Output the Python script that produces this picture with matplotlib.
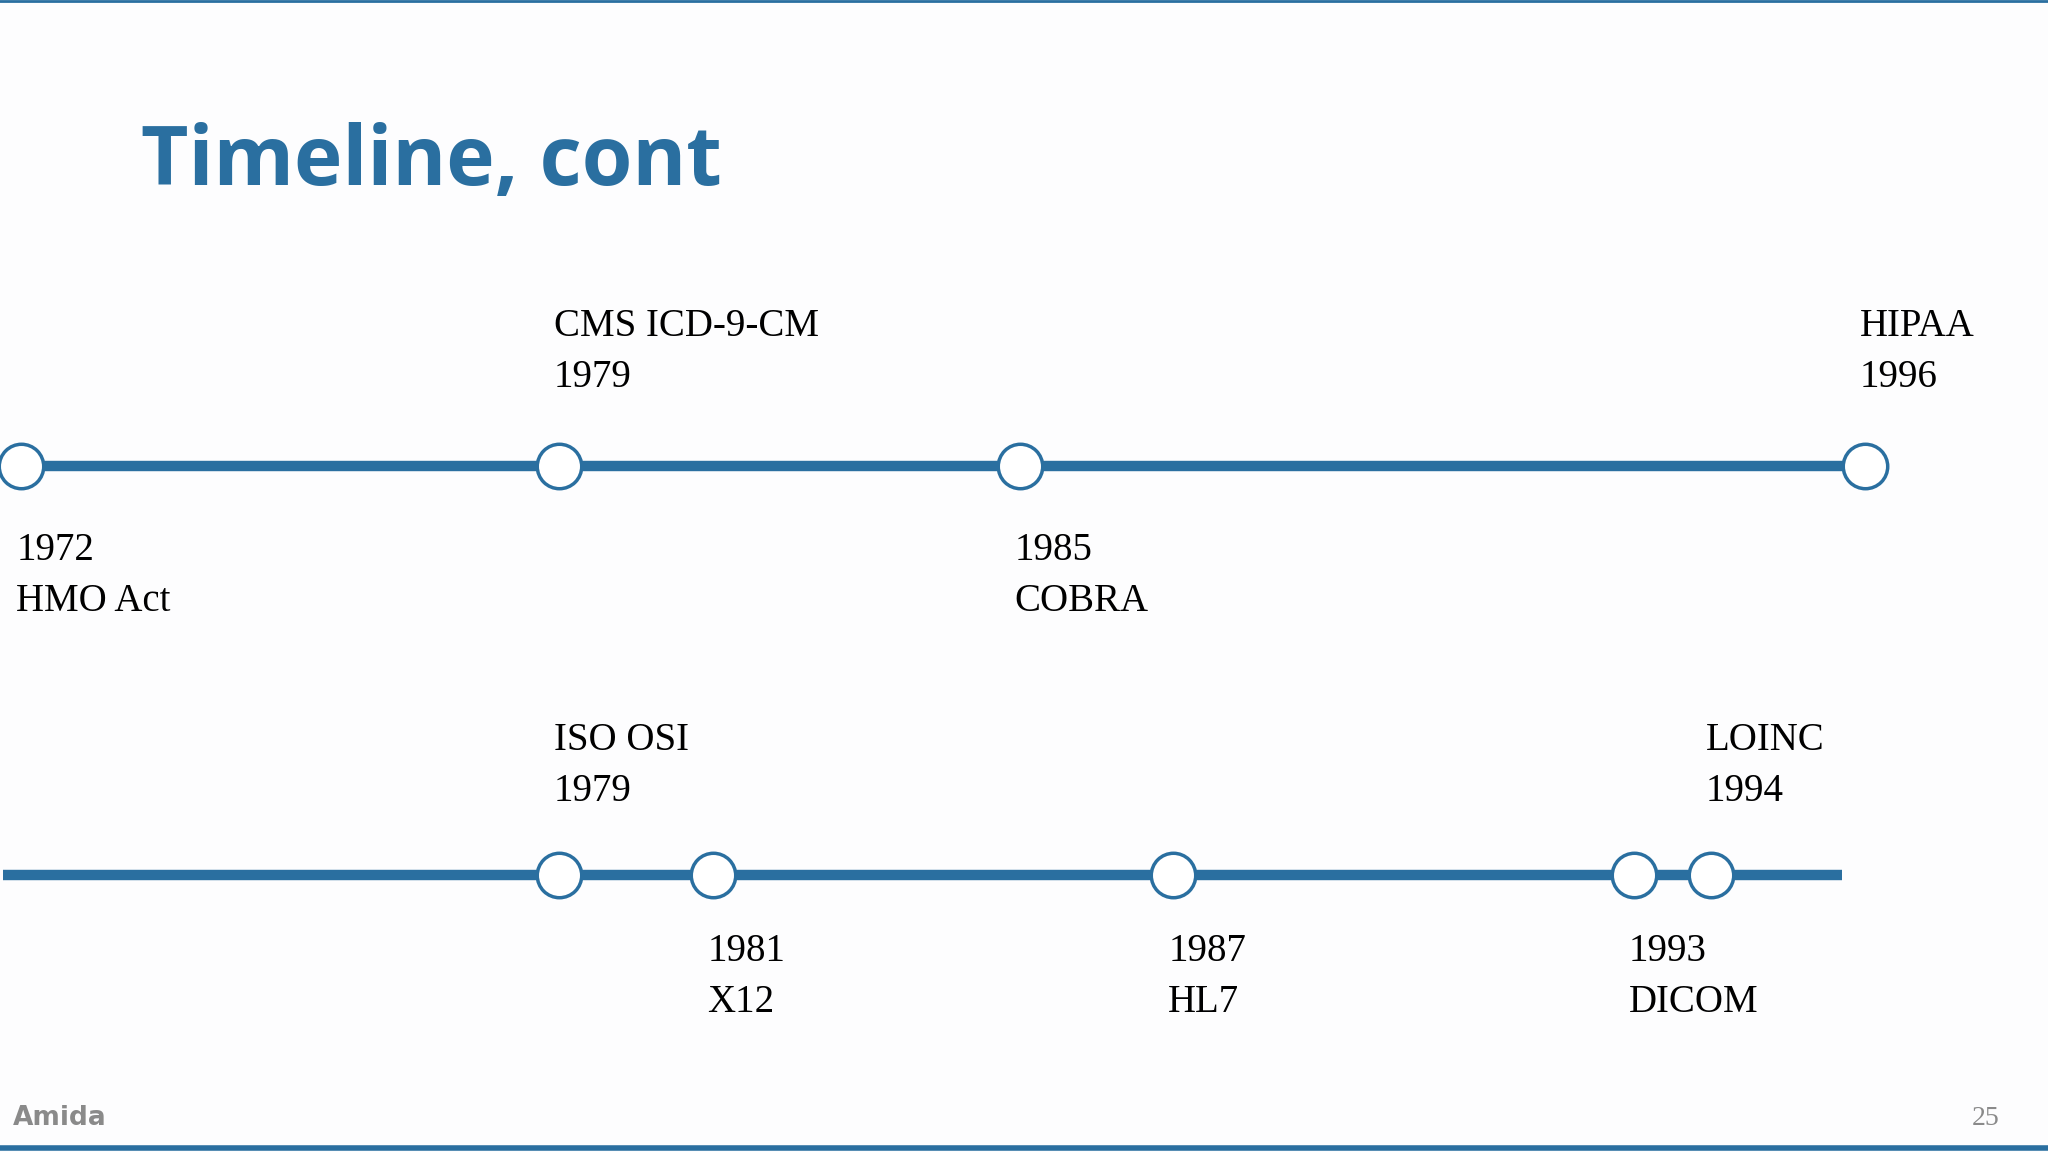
import matplotlib.pyplot as plt

# ---- data ----
row1_years = [1972, 1979, 1985, 1996]
row1_names = ["HMO Act", "CMS ICD-9-CM", "COBRA", "HIPAA"]
row1_above = [False, True, False, True]

row2_years = [1979, 1981, 1987, 1993, 1994]
row2_names = ["ISO OSI", "X12", "HL7", "DICOM", "LOINC"]
row2_above = [True, False, False, False, True]

BLUE = "#2a6fa0"
W, H = 1568, 882          # reference layout units
PX_PER_YEAR = 58.8
X0_YEAR = 1979 - 428 / PX_PER_YEAR

fig = plt.figure(figsize=(20.48, 11.52), dpi=100, facecolor="#fdfdfe")
ax = fig.add_axes([0, 0, 1, 1])
ax.set_xlim(X0_YEAR, X0_YEAR + W / PX_PER_YEAR)
ax.set_ylim(H, 0)
ax.axis("off")

# frame lines top/bottom
ax.axhline(1, color=BLUE, lw=2)
ax.axhline(879, color=BLUE, lw=4)

fig.text(108 / W, 1 - 125 / H, "Timeline, cont", color=BLUE, fontsize=59,
         fontweight="bold", family="Open Sans", va="center")

serif = "Liberation Serif"


def draw_row(years, names, above, y, x_start, x_end, dy_above, dy_below):
    ax.plot([x_start, x_end], [y, y], color=BLUE, lw=7.5, solid_capstyle="butt", zorder=1)
    ax.plot(years, [y] * len(years), "o", ms=32, mfc="white", mec=BLUE, mew=2.5, zorder=2)
    for yr, nm, up in zip(years, names, above):
        xt = yr - 4 / PX_PER_YEAR
        if up:
            ax.text(xt, y - dy_above, f"{nm}\n{yr}", fontsize=28, family=serif,
                    va="bottom", ha="left", linespacing=1.5)
        else:
            ax.text(xt, y + dy_below, f"{yr}\n{nm}", fontsize=28, family=serif,
                    va="top", ha="left", linespacing=1.5)


draw_row(row1_years, row1_names, row1_above, 357, X0_YEAR, 1996, 54, 50)
draw_row(row2_years, row2_names, row2_above, 670, X0_YEAR + 2 / PX_PER_YEAR,
         1996 - 17 / PX_PER_YEAR, 50, 44)

fig.text(10 / W, 1 - 856 / H, "Amida", color="#8a8a8a", fontsize=19,
         family="DejaVu Sans", fontweight="bold", va="center")
fig.text(1520 / W, 1 - 856 / H, "25", color="#8a8a8a", fontsize=20,
         family=serif, va="center", ha="center")

fig.savefig("out.png", dpi=100, facecolor=fig.get_facecolor())
